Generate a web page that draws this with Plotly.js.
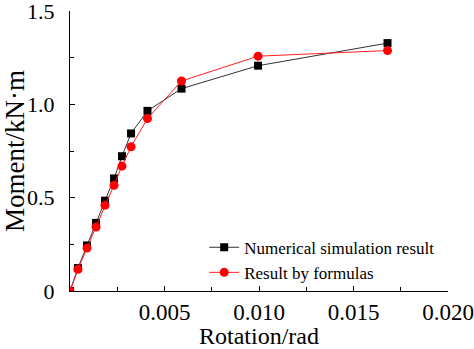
<!DOCTYPE html>
<html><head><meta charset="utf-8">
<script src="https://cdn.plot.ly/plotly-3.0.1.min.js"></script>
<style>html,body{margin:0;padding:0;background:#fff}</style>
</head><body><div id="chart" style="width:474px;height:349px"></div>
<script>
const simRotation = [0, 0.00042, 0.0009, 0.00138, 0.00185, 0.00233, 0.00275, 0.00323, 0.0041, 0.0059, 0.00995, 0.0168];
const simMoment   = [0, 0.123, 0.244, 0.365, 0.484, 0.603, 0.722, 0.844, 0.965, 1.084, 1.207, 1.328];
const formRotation = [0, 0.00042, 0.0009, 0.00138, 0.00185, 0.00233, 0.00275, 0.00323, 0.0041, 0.0059, 0.00995, 0.0168];
const formMoment   = [0, 0.116, 0.23, 0.343, 0.459, 0.566, 0.669, 0.773, 0.924, 1.125, 1.258, 1.288];
const xTickVals = [0.005, 0.010, 0.015, 0.020];
const xTickText = ["0.005", "0.010", "0.015", "0.020"];
const yTickVals = [0, 0.5, 1.0, 1.5];
const yTickText = ["0", "0.5", "1.0", "1.5"];
const seriesNames = ["Numerical simulation result", "Result by formulas"];

const font = "Liberation Serif";
const traces = [
  {x: simRotation, y: simMoment, name: seriesNames[0], mode: 'lines+markers',
   line: {color: '#333333', width: 1}, marker: {symbol: 'square', size: 8, color: '#000000'}},
  {x: formRotation, y: formMoment, name: seriesNames[1], mode: 'lines+markers',
   line: {color: '#ff2020', width: 1}, marker: {symbol: 'circle', size: 9, color: '#ff0000'}}
];
const layout = {
  width: 474, height: 349,
  margin: {l: 70, r: 26, t: 11, b: 58},
  paper_bgcolor: '#fff', plot_bgcolor: '#fff',
  font: {family: font, color: '#000', size: 20},
  showlegend: true,
  legend: {x: 0.355, y: 0.11, xanchor: 'left', yanchor: 'middle', bgcolor: 'rgba(0,0,0,0)',
           font: {family: font, size: 17, color: '#000'}, tracegroupgap: 0},
  xaxis: {range: [0, 0.020], tickvals: xTickVals, ticktext: xTickText, ticks: 'inside', ticklen: 5,
          tickcolor: '#000', showline: true, linecolor: '#000', linewidth: 1, showgrid: false, zeroline: false,
          tickfont: {family: font, size: 23}, ticklabeloverflow: 'allow',
          minor: {dtick: 0.0025, ticks: 'inside', ticklen: 4, tickcolor: '#000', showgrid: false},
          title: {text: 'Rotation/rad', font: {family: font, size: 24}, standoff: 15}},
  yaxis: {range: [0, 1.5], tickvals: yTickVals, ticktext: yTickText, ticks: 'inside', ticklen: 5,
          tickcolor: '#000', showline: true, linecolor: '#000', linewidth: 1, showgrid: false, zeroline: false,
          tickfont: {family: font, size: 22}, ticklabeloverflow: 'allow', ticklabelstandoff: 10,
          minor: {dtick: 0.25, ticks: 'inside', ticklen: 4, tickcolor: '#000', showgrid: false},
          title: {text: 'Moment/kN·m', font: {family: font, size: 27}, standoff: 0}}
};
Plotly.newPlot('chart', traces, layout, {staticPlot: true, displayModeBar: false});
</script></body></html>
